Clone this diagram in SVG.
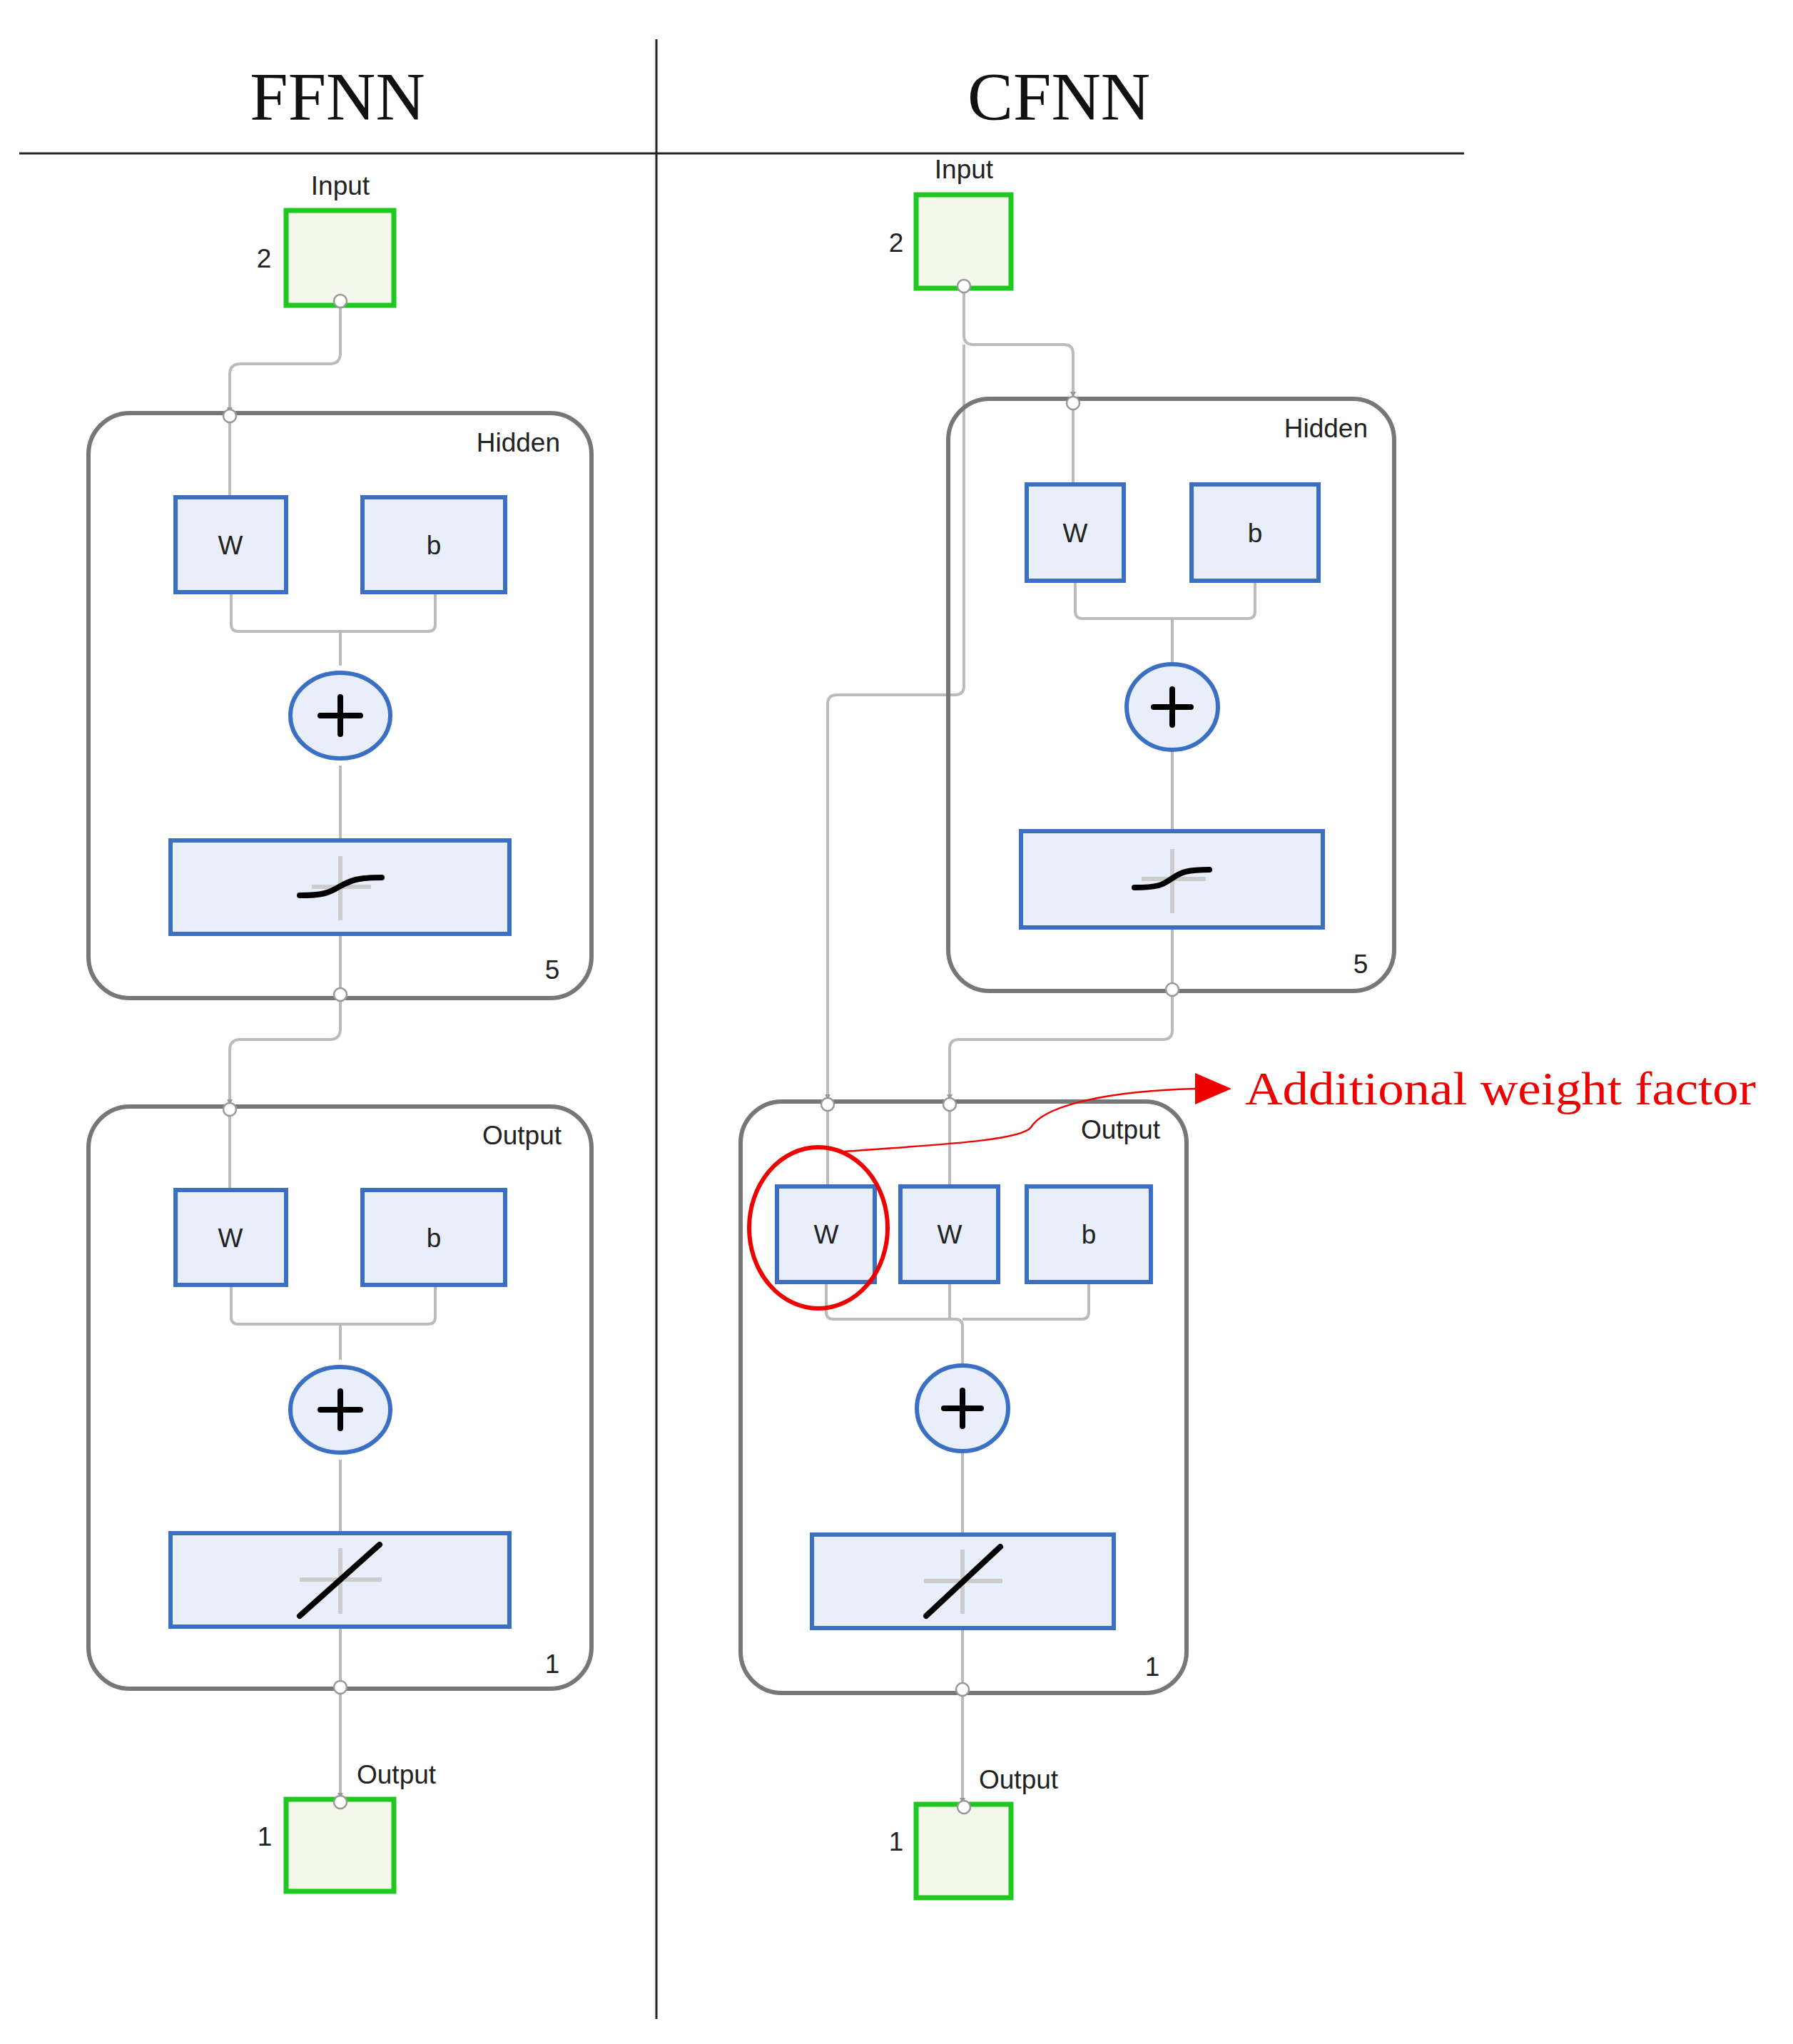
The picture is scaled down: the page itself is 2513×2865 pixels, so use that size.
<svg xmlns="http://www.w3.org/2000/svg" width="2513" height="2865" viewBox="0 0 2513 2865">
<style>
.t{font-family:"Liberation Serif",serif;font-size:96px;fill:#111;text-anchor:middle}
.s{font-family:"Liberation Sans",Arial,sans-serif;font-size:37px;fill:#222}
.m{text-anchor:middle}
.e{text-anchor:end}
.term{fill:#f3f8ea;stroke:#1ec81e;stroke-width:7}
.layer{fill:none;stroke:#777;stroke-width:6}
.blk{fill:#e8effb;stroke:#3a6fc4;stroke-width:6}
.wire{fill:none;stroke:#bbb;stroke-width:4}
.port{fill:#fff;stroke:#999;stroke-width:2.5}
.gx{stroke:#ccc;stroke-width:6}
.k{fill:none;stroke:#000;stroke-width:8;stroke-linecap:round}
</style>
<defs>
<marker id="a" markerWidth="8" markerHeight="8" refX="7" refY="4" orient="auto" markerUnits="userSpaceOnUse" viewBox="0 0 8 8"><path d="M0,0L8,4L0,8z" fill="#999"/></marker>
</defs>
<g id="frame">
<line x1="920" y1="55" x2="920" y2="2830" stroke="#222" stroke-width="3"/>
<line x1="27" y1="215" x2="2052" y2="215" stroke="#222" stroke-width="3"/>
<text class="t" x="473" y="168">FFNN</text>
<text class="t" x="1484" y="168">CFNN</text>
</g>
<g id="connectors">
<path class="wire" marker-end="url(#a)" d="M477,428V495Q477,510 462,510H337Q322,510 322,525V578"/>
<path class="wire" marker-end="url(#a)" d="M477,1393V1442Q477,1457 462,1457H337Q322,1457 322,1472V1548"/>
<path class="wire" d="M322,583V697M324,830V875Q324,885 334,885H600Q610,885 610,875V830M477,885V933M477,1073V1178M477,1309V1393"/>
<path class="wire" d="M322,1551V1668M324,1801V1846Q324,1856 334,1856H600Q610,1856 610,1846V1801M477,1856V1906M477,2046V2149M477,2280V2364"/>
<path class="wire" marker-end="url(#a)" d="M477,2370V2520"/>
<path class="wire" marker-end="url(#a)" d="M1351,407V470Q1351,483 1364,483H1491Q1504,483 1504,496V556"/>
<path class="wire" marker-end="url(#a)" d="M1351,483V961Q1351,974 1338,974H1173Q1160,974 1160,987V1541"/>
<path class="wire" marker-end="url(#a)" d="M1643,1392V1444Q1643,1457 1630,1457H1344Q1331,1457 1331,1470V1541"/>
<path class="wire" d="M1504,564V679M1507,814V857Q1507,867 1517,867H1749Q1759,867 1759,857V814M1643,867V931M1643,1051V1165M1643,1300V1386"/>
<path class="wire" d="M1160,1548V1663M1331,1548V1663M1158,1797V1839Q1158,1849 1168,1849H1339Q1349,1849 1349,1859V1914M1331,1797V1849M1526,1797V1839Q1526,1849 1516,1849H1349M1349,2034V2151M1349,2282V2367"/>
<path class="wire" marker-end="url(#a)" d="M1349,2373V2527"/>
</g>
<g id="ff-input"><rect class="term" x="401" y="295" width="151" height="133"/><text class="s m" x="477" y="273">Input</text><text class="s m" x="370" y="375">2</text><circle class="port" cx="477" cy="422" r="9"/></g>
<g id="ff-hidden">
<rect class="layer" x="124" y="579" width="705" height="820" rx="58"/>
<text class="s e" x="785" y="633">Hidden</text><text class="s m" x="774" y="1372">5</text>
<rect class="blk" x="246" y="697" width="155" height="133"/><text class="s m" x="323" y="777">W</text>
<rect class="blk" x="508" y="697" width="200" height="133"/><text class="s m" x="608" y="777">b</text>
<ellipse class="blk" cx="477" cy="1003" rx="70" ry="60"/><path class="k" d="M449,1003H505M477,977V1029"/>
<rect class="blk" x="239" y="1178" width="475" height="131"/><path class="gx" d="M437,1243H520M477,1200V1290"/><path class="k" d="M420,1255C458,1255 462,1250 477,1242C492,1234 500,1230 535,1230"/>
<circle class="port" cx="322" cy="583" r="9"/><circle class="port" cx="477" cy="1394" r="9"/>
</g>
<g id="ff-output">
<rect class="layer" x="124" y="1551" width="705" height="816" rx="58"/>
<text class="s e" x="787" y="1604">Output</text><text class="s m" x="774" y="2345">1</text>
<rect class="blk" x="246" y="1668" width="155" height="133"/><text class="s m" x="323" y="1748">W</text>
<rect class="blk" x="508" y="1668" width="200" height="133"/><text class="s m" x="608" y="1748">b</text>
<ellipse class="blk" cx="477" cy="1976" rx="70" ry="60"/><path class="k" d="M449,1976H505M477,1950V2002"/>
<rect class="blk" x="239" y="2149" width="475" height="131"/><path class="gx" d="M420,2214H535M477,2170V2262"/><path class="k" d="M420,2265L532,2165"/>
<circle class="port" cx="322" cy="1555" r="9"/><circle class="port" cx="477" cy="2365" r="9"/>
</g>
<g id="ff-out"><rect class="term" x="401" y="2522" width="151" height="129"/><text class="s" x="500" y="2500">Output</text><text class="s m" x="371" y="2587">1</text><circle class="port" cx="477" cy="2526" r="9"/></g>
<g id="cf-input"><rect class="term" x="1284" y="273" width="133" height="131"/><text class="s m" x="1351" y="250">Input</text><text class="s m" x="1256" y="353">2</text><circle class="port" cx="1351" cy="401" r="9"/></g>
<g id="cf-hidden">
<rect class="layer" x="1329" y="559" width="625" height="830" rx="58"/>
<text class="s e" x="1917" y="613">Hidden</text><text class="s m" x="1907" y="1364">5</text>
<rect class="blk" x="1439" y="679" width="136" height="135"/><text class="s m" x="1507" y="760">W</text>
<rect class="blk" x="1670" y="679" width="178" height="135"/><text class="s m" x="1759" y="760">b</text>
<ellipse class="blk" cx="1643" cy="991" rx="64" ry="60"/><path class="k" d="M1617,991H1669M1643,966V1016"/>
<rect class="blk" x="1431" y="1165" width="423" height="135"/><path class="gx" d="M1600,1232H1690M1643,1190V1280"/><path class="k" d="M1590,1244C1625,1244 1630,1240 1643,1231C1656,1222 1665,1219 1695,1219"/>
<circle class="port" cx="1504" cy="565" r="9"/><circle class="port" cx="1643" cy="1387" r="9"/>
</g>
<g id="cf-output">
<rect class="layer" x="1038" y="1544" width="625" height="829" rx="58"/>
<text class="s e" x="1626" y="1596">Output</text><text class="s m" x="1615" y="2349">1</text>
<rect class="blk" x="1089" y="1663" width="137" height="134"/><text class="s m" x="1158" y="1743">W</text>
<rect class="blk" x="1262" y="1663" width="137" height="134"/><text class="s m" x="1331" y="1743">W</text>
<rect class="blk" x="1439" y="1663" width="174" height="134"/><text class="s m" x="1526" y="1743">b</text>
<ellipse class="blk" cx="1349" cy="1974" rx="64" ry="60"/><path class="k" d="M1323,1974H1375M1349,1949V1999"/>
<rect class="blk" x="1138" y="2151" width="423" height="131"/><path class="gx" d="M1295,2216H1405M1349,2172V2262"/><path class="k" d="M1298,2265L1402,2168"/>
<circle class="port" cx="1160" cy="1548" r="9"/><circle class="port" cx="1331" cy="1548" r="9"/><circle class="port" cx="1349" cy="2368" r="9"/>
</g>
<g id="cf-out"><rect class="term" x="1284" y="2529" width="133" height="131"/><text class="s" x="1372" y="2507">Output</text><text class="s m" x="1256" y="2594">1</text><circle class="port" cx="1351" cy="2533" r="9"/></g>
<g id="annotation">
<ellipse cx="1147" cy="1721" rx="97" ry="113" fill="none" stroke="#e00" stroke-width="6"/>
<path d="M1184,1614C1300,1605 1430,1600 1445,1580C1460,1555 1530,1530 1675,1526" fill="none" stroke="#e00" stroke-width="2.5"/>
<path d="M1675,1504L1726,1526L1675,1548z" fill="#e00"/>
<text x="1745" y="1548" font-family="Liberation Serif,serif" font-size="66" fill="#e00" textLength="716" lengthAdjust="spacingAndGlyphs">Additional weight factor</text>
</g>
</svg>
